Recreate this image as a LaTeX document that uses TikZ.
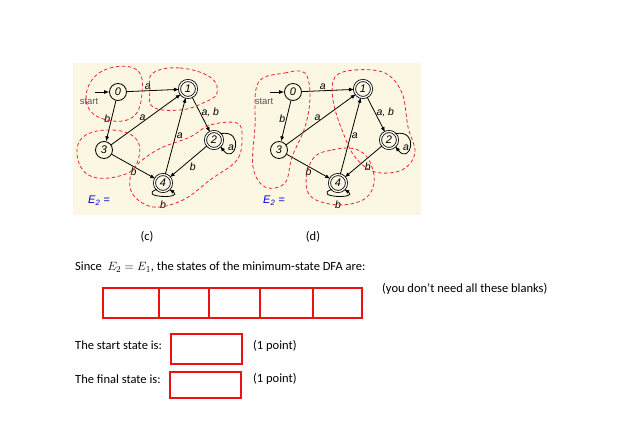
\documentclass[tikz,border=0pt]{standalone}
\usepackage{fontspec}
\setmainfont{Carlito}
\newfontfamily\arialf{Liberation Sans}
\usetikzlibrary{arrows.meta}
\definecolor{bgc}{HTML}{FCF7E2}
\definecolor{blobred}{HTML}{E8242A}
\definecolor{boxred}{HTML}{F01010}
\tikzset{
  st/.style={circle,draw,thick,minimum size=17pt,inner sep=0pt,font=\arialf\itshape\fontsize{11}{11}\selectfont},
  acc/.style={st,double,double distance=1.3pt},
  tr/.style={-{Latex[length=5pt,width=4pt]},thick},
  lab/.style={font=\arialf\itshape\fontsize{10.5}{11}\selectfont,inner sep=1pt},
  blob/.style={draw=blobred,dashed,dash pattern=on 3.5pt off 2.5pt,thick},
  ans/.style={draw=boxred,line width=1.6pt},
  txt/.style={font=\fontsize{12.5}{14}\selectfont,anchor=west,inner sep=0pt},
}
\newcommand{\myauto}[1]{%
  \node[st]  (#1n0) at (118,92) {0};
  \node[acc] (#1n1) at (188,89) {1};
  \node[acc] (#1n2) at (214,140) {2};
  \node[st]  (#1n3) at (104,150) {3};
  \node[acc] (#1n4) at (163,183) {4};
  \coordinate (#1s) at (95,92);
  \draw[tr] (#1s) -- (#1n0);
  \node[font=\arialf\fontsize{9.5}{10}\selectfont,gray!70!black] at (89,101) {start};
  \draw[tr] (#1n0) -- node[lab,pos=0.4,above] {a} (#1n1);
  \draw[tr] (#1n0) -- node[lab,pos=0.45,left] {b} (#1n3);
  \draw[tr] (#1n3) -- node[lab,pos=0.45,above] {a} (#1n1);
  \draw[tr] (#1n3) -- node[lab,pos=0.5,below] {b} (#1n4);
  \draw[tr] (#1n4) -- node[lab,pos=0.5,right] {a} (#1n1);
  \draw[tr] (#1n1) -- node[lab,pos=0.45,right] {a, b} (#1n2);
  \draw[tr] (#1n2) -- node[lab,pos=0.5,below right] {b} (#1n4);
  \draw[tr] (#1n2.north east) .. controls +(25,-5) and +(15,20) .. (#1n2.south east);
  \node[lab] at (231,148) {a};
  \draw[tr] (#1n4.south west) .. controls +(-20,8) and +(15,10) .. (#1n4.south east);
  \node[lab] at (163,205) {b};
  \node[font=\arialf\itshape\fontsize{11}{11}\selectfont,blue!80!black] at (99,201) {E\textsubscript{2} =};
}
\begin{document}
\begin{tikzpicture}[x=1pt,y=-1pt]
\useasboundingbox (0,0) rectangle (630,441);
\fill[bgc] (73,63) rectangle (421,215);
% panel (c)
\myauto{c}
\draw[blob] plot[smooth cycle,tension=0.7] coordinates {(90,83)(110,68)(137,70)(142,93)(133,117)(107,120)(88,107)};
\draw[blob] plot[smooth cycle,tension=0.7] coordinates {(153,73)(180,68)(210,77)(217,93)(203,103)(180,110)(153,107)(150,90)};
\draw[blob] plot[smooth cycle,tension=0.7] coordinates {(83,137)(113,130)(137,140)(137,163)(123,175)(93,177)(78,160)};
\draw[blob] plot[smooth cycle,tension=0.6] coordinates {(133,170)(157,150)(190,137)(210,125)(237,123)(242,137)(237,160)(210,180)(183,200)(153,207)(132,193)};
% panel (d)
\begin{scope}[shift={(175,0)}]
\myauto{d}
\end{scope}
\draw[blob] plot[smooth cycle,tension=0.6] coordinates {(258,83)(285,73)(305,73)(310,97)(305,127)(292,157)(285,183)(265,187)(253,167)(255,127)};
\draw[blob] plot[smooth cycle,tension=0.6] coordinates {(335,77)(355,70)(385,73)(402,93)(408,127)(415,153)(402,170)(375,172)(355,157)(342,130)(333,100)};
\draw[blob] plot[smooth cycle,tension=0.7] coordinates {(312,160)(332,150)(358,150)(372,167)(372,190)(355,203)(325,203)(307,190)};
\node[font=\fontsize{12.5}{14}\selectfont] (lc) at (147,237) {(c)};
\node[font=\fontsize{12.5}{14}\selectfont] (ld) at (313,237) {(d)};
\node[txt] (since) at (75,267) {Since\ \ $E_2 = E_1$, the states of the minimum-state DFA are:};
\draw[ans] (103,288) rectangle (362,318);
\draw[ans] (159,288) -- (159,318);
\draw[ans] (209,288) -- (209,318);
\draw[ans] (260,288) -- (260,318);
\draw[ans] (313,288) -- (313,318);
\node[txt] (note) at (382,289) {(you don’t need all these blanks)};
\node[txt] (st) at (75,345) {The start state is:};
\draw[ans] (171,334) rectangle (242,364);
\node[txt] (p1) at (253,346) {(1 point)};
\node[txt] (fs) at (75,379) {The final state is:};
\draw[ans] (170,372) rectangle (241,398);
\node[txt] (p2) at (253,379) {(1 point)};
\end{tikzpicture}
\end{document}
